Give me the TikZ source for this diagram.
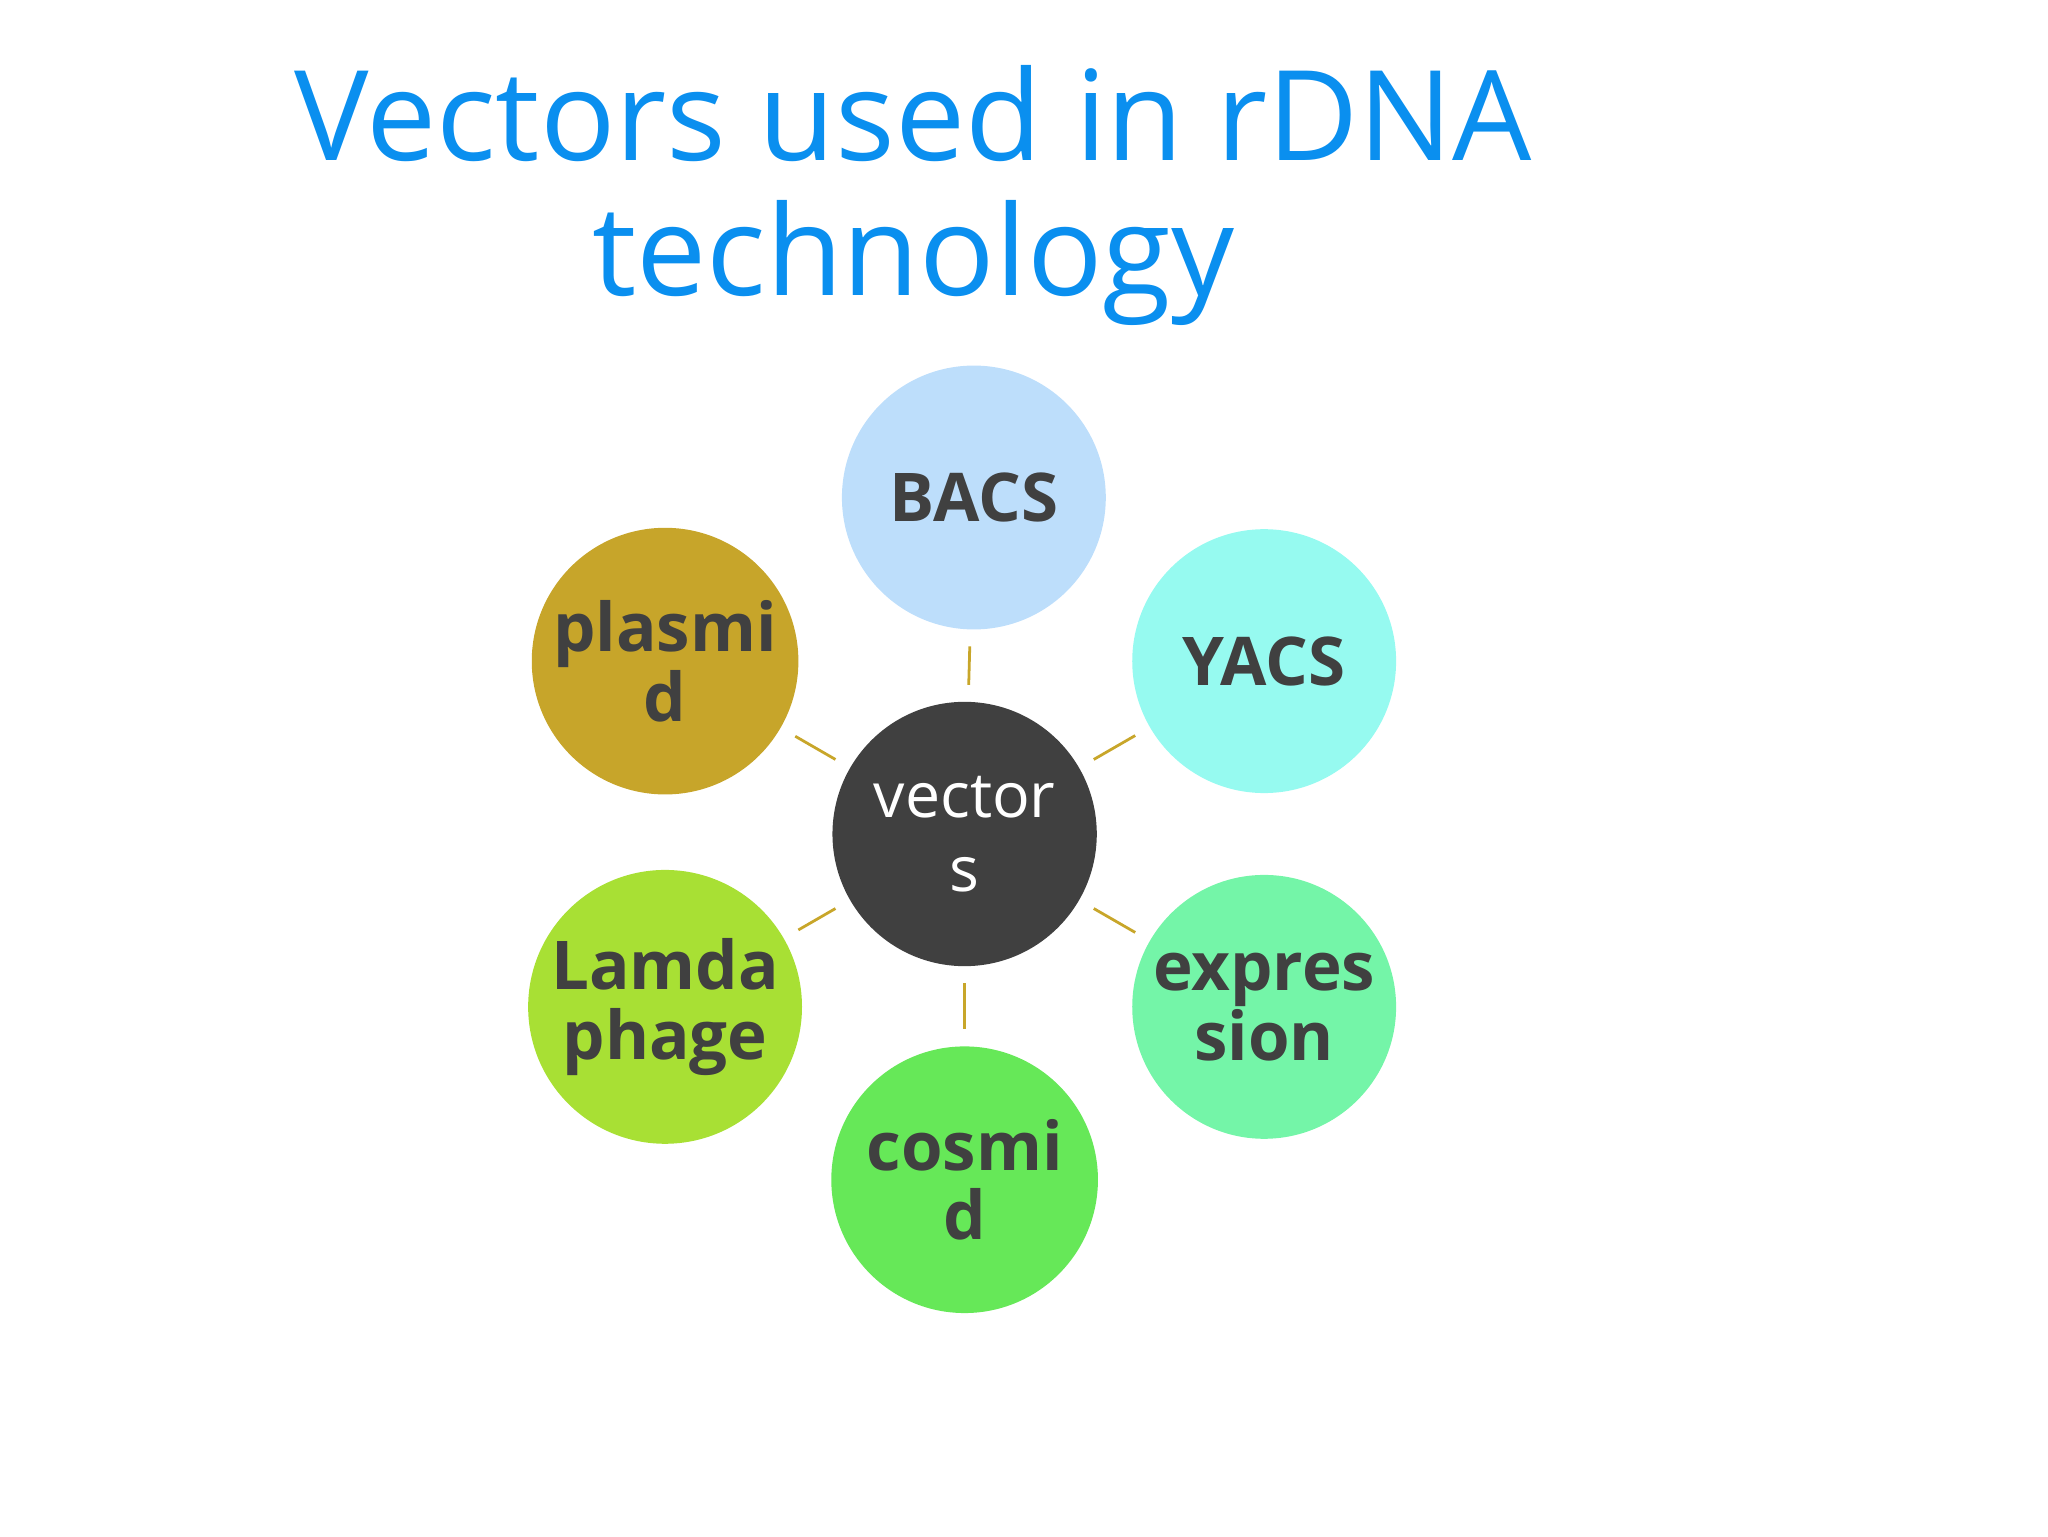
\documentclass[tikz,border=0pt]{standalone}
\usepackage{fontspec}
\setmainfont{Open Sans}
\definecolor{titleblue}{HTML}{0A8FEF}
\definecolor{dark}{HTML}{404040}
\definecolor{linec}{HTML}{C8A62A}
\definecolor{cbacs}{HTML}{BDDEFB}
\definecolor{cyacs}{HTML}{96FAF0}
\definecolor{cexpr}{HTML}{74F5A8}
\definecolor{ccos}{HTML}{66E858}
\definecolor{clam}{HTML}{A8E034}
\definecolor{cplas}{HTML}{C7A52A}
\begin{document}
\begin{tikzpicture}[x=0.02cm,y=-0.02cm,
  leaf/.style={circle,minimum size=4cm,inner sep=0pt,text=dark,font=\fontsize{29}{30}\selectfont\bfseries,align=center,text width=3.6cm},
  hub/.style={circle,minimum size=4cm,inner sep=0pt,fill=dark,text=white,font=\fontsize{27}{32}\selectfont,align=center,text width=3.6cm},
  link/.style={draw=linec,line width=1.2pt,shorten <=0.25cm,shorten >=0.25cm}]
\useasboundingbox (0,0) rectangle (1552,1164);
\node[text=titleblue,font=\fontsize{54}{58}\selectfont,align=center] (title) at (692,148) {Vectors used in rDNA\\technology};
\node[hub] (v) at (731,632) {vector\\s};
\node[leaf,fill=cbacs] (b) at (738,377) {BACS};
\node[leaf,fill=cyacs] (y) at (958,501) {YACS};
\node[leaf,fill=cexpr] (e) at (958,763) {expres\\sion};
\node[leaf,fill=ccos] (c) at (731,894) {cosmi\\d};
\node[leaf,fill=clam] (l) at (504,763) {Lamda\\phage};
\node[leaf,fill=cplas] (p) at (504,501) {plasmi\\d};
\foreach \n in {b,y,e,c,l,p}{\draw[link] (v) -- (\n);}
\end{tikzpicture}
\end{document}
